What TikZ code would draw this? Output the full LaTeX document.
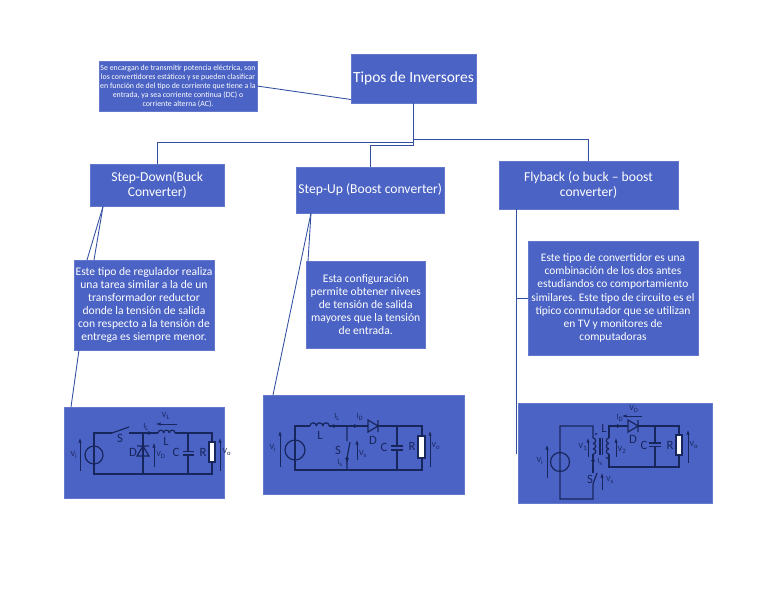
\documentclass[tikz,border=0pt]{standalone}
\usepackage{fontspec}
\setmainfont{Carlito}
\usetikzlibrary{
  calc,
  arrows, arrows.meta,
  positioning,
}
\definecolor{boxblue}{HTML}{4B63C4}
\definecolor{boxedge}{HTML}{6478CC}
\definecolor{linkblue}{HTML}{3350A0}
\definecolor{wireblue}{HTML}{18265E}
\tikzset{
  blbox/.style 2 args = {rectangle, fill=boxblue, draw=boxedge, line width=0.3pt,
      minimum width=#1*0.75pt, minimum height=#2*0.75pt,
      inner sep=0pt, outer sep=0pt, text=white, align=center},
  link/.style = {draw=linkblue, line width=0.65pt},
  wire/.style = {draw=wireblue, line width=0.9pt},
  varrow/.style = {draw=wireblue, line width=0.45pt, -{Latex[length=3.4pt,width=2.4pt]}},
  carrow/.style = {draw=wireblue, line width=0.9pt, -{Latex[length=3.6pt,width=3pt]}},
  part/.style = {text=wireblue, font=\fontsize{9.5}{9.5}\selectfont, inner sep=0pt},
  vlab/.style = {text=wireblue, font=\fontsize{6}{6}\selectfont, inner sep=0pt},
}
\newcommand{\hcoil}[4]{% x start, y, bump radius, number of bumps
  \foreach \k in {1,...,#4}
    \draw[wire] ({#1+(2*\k-2)*#3},#2) arc[start angle=180, end angle=360, radius=#3];
}
\newcommand{\vcoil}[5]{% x, y start, bump radius, bumps, side (1 right, -1 left)
  \foreach \k in {1,...,#4}
    \draw[wire] (#1,{#2+(2*\k-2)*#3}) arc[start angle=-90, delta angle={#5*180}, radius=#3];
}

\begin{document}
\begin{tikzpicture}[x=0.75pt, y=-0.75pt]
  \useasboundingbox (0,0) rectangle (768,594);

  % text boxes
  \node[blbox={125}{49}, font=\fontsize{11.6}{13}\selectfont] (title) at (413.5,78.5)
    {Tipos de Inversores};
  \node[blbox={158}{50}, font=\fontsize{5.9}{6.75}\selectfont] (desc) at (178,86)
    {Se encargan de transmitir potencia eléctrica, son\\los convertidores estáticos y se pueden clasificar\\en función de del tipo de corriente que tiene a la\\entrada, ya sea corriente continua (DC) o\\corriente alterna (AC).};
  \node[blbox={134.5}{42}, font=\fontsize{10.2}{11.5}\selectfont] (down) at (157.25,185)
    {Step-Down(Buck\\Converter)};
  \node[blbox={147.5}{46}, font=\fontsize{10.2}{11.5}\selectfont] (up) at (370.25,190)
    {Step-Up (Boost converter)};
  \node[blbox={179}{48}, font=\fontsize{10.2}{11.5}\selectfont] (fly) at (588.5,185)
    {Flyback (o buck -- boost\\converter)};
  \node[blbox={140}{90}, font=\fontsize{8.7}{9.8}\selectfont] (downtxt) at (144,305)
    {Este tipo de regulador realiza\\una tarea similar a la de un\\transformador reductor\\donde la tensión de salida\\con respecto a la tensión de\\entrega es siempre menor.};
  \node[blbox={118.5}{87}, font=\fontsize{8.7}{9.8}\selectfont] (uptxt) at (365.75,304.5)
    {Esta configuración\\permite obtener nivees\\de tensión de salida\\mayores que la tensión\\de entrada.};
  \node[blbox={170}{114}, font=\fontsize{8.6}{9.8}\selectfont] (flytxt) at (613,298)
    {Este tipo de convertidor es una\\combinación de los dos antes\\estudiandos co comportamiento\\similares. Este tipo de circuito es el\\típico conmutador que se utilizan\\en TV y monitores de\\computadoras};
  \node[blbox={160}{91}] (downcir) at (144,452.5) {};
  \node[blbox={201}{99}] (upcir) at (363.5,444.5) {};
  \node[blbox={194}{100}] (flycir) at (615,453) {};

  % connectors
  \coordinate (trunk) at (title.south |- 0,139);
  \coordinate (titleleft) at ($(title.west)+(0,21)$);
  \coordinate (downfoot) at (103,206.5);
  \coordinate (downtop1) at (87,260);
  \coordinate (downtop2) at (94,260);
  \coordinate (downbot) at (79,350);
  \coordinate (downcirtop) at (71,407);
  \coordinate (upfoot) at (311,213);
  \coordinate (uptop) at (308,261.5);
  \coordinate (upcirtop) at (273,395);
  \coordinate (flyfoot) at (516.5,209);
  \coordinate (flyend) at (516.5,454);

  \draw[link] (desc.east) -- (titleleft);
  \draw[link] (title.south) -- ++(0,39) -| (down.north);
  \draw[link] (title.south) -- ++(0,42) -| (up.north);
  \draw[link] (trunk) -| (fly.north);
  \draw[link] (downfoot) -- (downtop1);
  \draw[link] (downfoot) -- (downtop2);
  \draw[link] (downbot) -- (downcirtop);
  \draw[link] (upfoot) -- (uptop);
  \draw[link] (upfoot) -- (upcirtop);
  \draw[link] (flyfoot) -- (flyend);
  \draw[link] (flyfoot |- flytxt.west) -- (flytxt.west);

  % buck circuit
  \draw[wire] (129,433) -- (158,433);
  \draw[wire] (175,433) -- (212,433) -- (212,442);
  \draw[wire] (112,433) -- (94,433) -- (94,474) -- (212,474) -- (212,462);
  \draw[wire] (112,433) -- (129,427);
  \hcoil{158}{433}{2.85}{3}
  \draw[wire] (143,433) -- (143,474);
  \draw[wire] (188,433) -- (188,451.5) (188,455) -- (188,474);
  \draw[wire] (183,451.5) -- (194,451.5) (183,455) -- (194,455);
  \draw[wire] (137,446) -- (149,446) (143,446) -- (137,456) -- (149,456) -- cycle;
  \draw[wire] (94,455) circle[radius=9];
  \draw[wire, fill=white] (209,442) rectangle (215,462);
  \draw[carrow] (147,433) -- (153,433);
  \draw[varrow] (80,471) -- (80,438);
  \draw[varrow] (220,471) -- (220,438);
  \draw[varrow] (154,467) -- (154,443);
  \draw[varrow] (177,424) -- (156,424);
  \node[vlab] (bvi) at (74,455) {V\textsubscript{i}};
  \node[vlab] (bvo) at (227,452) {V\textsubscript{o}};
  \node[vlab] (bvd) at (161,455) {V\textsubscript{D}};
  \node[vlab] (bvl) at (166,416) {V\textsubscript{L}};
  \node[vlab] (bil) at (146,427) {I\textsubscript{L}};
  \node[part] (bs) at (120,438) {S};
  \node[part] (bd) at (133,452) {D};
  \node[part] (bl) at (166,441) {L};
  \node[part] (bc) at (176,452) {C};
  \node[part] (br) at (203,452) {R};

  % boost circuit
  \draw[wire] (310,426) -- (295,426) -- (295,470) -- (422,470) -- (422,458);
  \hcoil{310}{426}{3.2}{3}
  \draw[wire] (329,426) -- (368,426) (378,426) -- (422,426) -- (422,436);
  \draw[wire] (368,420) -- (368,432) -- (378,426) -- cycle (378,420) -- (378,432);
  \draw[wire] (347,426) -- (347,441) (350,442) -- (347,458) -- (347,470);
  \draw[wire] (397,426) -- (397,446) (397,450) -- (397,470);
  \draw[wire] (391,446) -- (403,446) (391,450) -- (403,450);
  \draw[wire] (295,450) circle[radius=10];
  \draw[wire, fill=white] (418,436) rectangle (425,458);
  \draw[carrow] (332,426) -- (338,426);
  \draw[carrow] (353,426) -- (359,426);
  \draw[carrow] (347,457) -- (347,463);
  \draw[varrow] (280,467) -- (280,431);
  \draw[varrow] (430,467) -- (430,431);
  \draw[varrow] (357,460) -- (357,440);
  \node[vlab] (uvi) at (273,448) {V\textsubscript{i}};
  \node[vlab] (uvo) at (436,446) {V\textsubscript{o}};
  \node[vlab] (uvs) at (363,454) {V\textsubscript{s}};
  \node[vlab] (uil) at (337,417) {I\textsubscript{L}};
  \node[vlab] (uid) at (360,417) {I\textsubscript{D}};
  \node[vlab] (uis) at (340,463) {I\textsubscript{s}};
  \node[part] (ul) at (320,435) {L};
  \node[part] (ud) at (373,440) {D};
  \node[part] (us) at (338,450) {S};
  \node[part] (uc) at (384,447) {C};
  \node[part] (ur) at (412,446) {R};

  % flyback circuit
  \draw[wire] (593,438) -- (593,426) -- (560,426) -- (560,499) -- (593,499) -- (593,484) -- (597,473);
  \draw[wire] (593,454) -- (593,473);
  \vcoil{593}{438}{2.7}{3}{1}
  \vcoil{609}{438}{2.7}{3}{-1}
  \draw[wire] (609,438) -- (609,426) -- (628,426) (638,426) -- (679,426) -- (679,435);
  \draw[wire] (609,454) -- (609,467) -- (679,467) -- (679,455);
  \draw[wire] (600,438) -- (600,455) (602.5,438) -- (602.5,455);
  \draw[wire] (628,420) -- (628,432) -- (638,426) -- cycle (638,420) -- (638,432);
  \draw[wire] (655,426) -- (655,443) (655,446.5) -- (655,467);
  \draw[wire] (649,443) -- (661,443) (649,446.5) -- (661,446.5);
  \draw[wire] (560,462) circle[radius=9.5];
  \draw[wire, fill=white] (676,435) rectangle (682,455);
  \fill[wireblue] (596,434) circle[radius=1.2] (607,458) circle[radius=1.2];
  \draw[carrow] (616,426) -- (622,426);
  \draw[carrow] (593,459) -- (593,465);
  \draw[varrow] (547,478) -- (547,445);
  \draw[varrow] (588,457) -- (588,438);
  \draw[varrow] (616,457) -- (616,438);
  \draw[varrow] (688,463) -- (688,430);
  \draw[varrow] (602,490) -- (602,473);
  \draw[varrow] (642,416) -- (622,416);
  \node[vlab] (fvi) at (540,461) {V\textsubscript{i}};
  \node[vlab] (fvone) at (583,447) {V\textsubscript{1}};
  \node[vlab] (fvtwo) at (622,450) {V\textsubscript{2}};
  \node[vlab] (fvo) at (694,445) {V\textsubscript{o}};
  \node[vlab] (fvs) at (610,480) {V\textsubscript{s}};
  \node[vlab] (fvd) at (634,409) {V\textsubscript{D}};
  \node[vlab] (fid) at (620,418) {I\textsubscript{D}};
  \node[vlab] (fis) at (600,462) {I\textsubscript{s}};
  \node[part] (fl) at (604,428) {L};
  \node[part] (fd) at (633,439) {D};
  \node[part] (fc) at (644,445) {C};
  \node[part] (fr) at (670,445) {R};
  \node[part] (fs) at (590,479) {S};
\end{tikzpicture}
\end{document}
